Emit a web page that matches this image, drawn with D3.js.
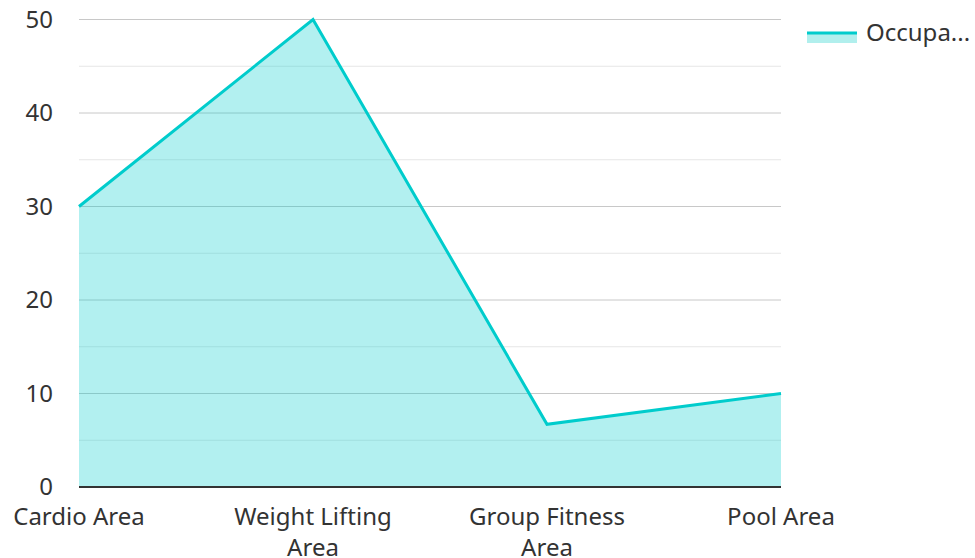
<!DOCTYPE html>
<html>
<head>
<meta charset="utf-8">
<script src="https://cdn.jsdelivr.net/npm/d3@7"></script>
<style>
  html, body { margin: 0; padding: 0; background: #fff; }
  svg { display: block; font-family: "Noto Sans", "Open Sans", sans-serif; }
</style>
</head>
<body>
<svg id="chart" width="975" height="558"></svg>
<script>
// data
const categories = [["Cardio Area"], ["Weight Lifting", "Area"], ["Group Fitness", "Area"], ["Pool Area"]];
const occupancy  = [30, 50, 6.7, 10];
const seriesName = "Occupa...";
const majorTicks = [0, 10, 20, 30, 40, 50];
const minorTicks = [5, 15, 25, 35, 45];

const W = 975, H = 558;
const margin = {top: 19.5, right: 194, bottom: 71, left: 79};
const svg = d3.select("#chart");

const x = d3.scalePoint()
  .domain(d3.range(categories.length))
  .range([margin.left, W - margin.right]);
const y = d3.scaleLinear().domain([0, 50]).range([H - margin.bottom, margin.top]);

const lineCol = "#00cccc", fillCol = "#b1efed";
const fs = 24;

/* ---------- grid ---------- */
svg.append("g").selectAll("line").data(minorTicks).join("line")
  .attr("x1", margin.left).attr("x2", W - margin.right)
  .attr("y1", d => y(d)).attr("y2", d => y(d))
  .attr("stroke", "#e6e6e6").attr("stroke-width", 1);
svg.append("g").selectAll("line").data(majorTicks.filter(d => d > 0)).join("line")
  .attr("x1", margin.left).attr("x2", W - margin.right)
  .attr("y1", d => y(d)).attr("y2", d => y(d))
  .attr("stroke", "#c8c8c8").attr("stroke-width", 1);

/* ---------- area + line ---------- */
const area = d3.area().x((d, i) => x(i)).y0(y(0)).y1(d => y(d));
const line = d3.line().x((d, i) => x(i)).y(d => y(d));

svg.append("path").datum(occupancy)
  .attr("d", area).attr("fill", lineCol).attr("fill-opacity", 0.3);
svg.append("path").datum(occupancy)
  .attr("d", line).attr("fill", "none").attr("stroke", lineCol)
  .attr("stroke-width", 3).attr("stroke-linejoin", "miter");

/* ---------- axes ---------- */
svg.append("line")
  .attr("x1", margin.left).attr("x2", W - margin.right)
  .attr("y1", y(0)).attr("y2", y(0))
  .attr("stroke", "#333").attr("stroke-width", 2);

svg.append("g").selectAll("text").data(majorTicks).join("text")
  .attr("x", 53).attr("y", d => y(d))
  .attr("dy", "0.35em")
  .attr("text-anchor", "end")
  .attr("font-size", fs).attr("fill", "#333")
  .text(d => d);

const xl = svg.append("g").selectAll("text").data(categories).join("text")
  .attr("x", (d, i) => x(i)).attr("y", 525)
  .attr("text-anchor", "middle")
  .attr("font-size", fs).attr("fill", "#333");
xl.selectAll("tspan").data(d => d).join("tspan")
  .attr("x", function() { return this.parentNode.getAttribute("x"); })
  .attr("dy", (d, i) => i ? 31 : 0)
  .text(d => d);

/* ---------- legend ---------- */
const lg = svg.append("g").attr("transform", "translate(807,33)");
lg.append("rect").attr("x", 0).attr("y", 0).attr("width", 50).attr("height", 10)
  .attr("fill", fillCol);
lg.append("line").attr("x1", 0).attr("x2", 50).attr("y1", 0).attr("y2", 0)
  .attr("stroke", lineCol).attr("stroke-width", 3);
lg.append("text").attr("x", 59).attr("y", 0).attr("dy", "0.35em")
  .attr("font-size", fs).attr("fill", "#333").text(seriesName);
</script>
</body>
</html>
